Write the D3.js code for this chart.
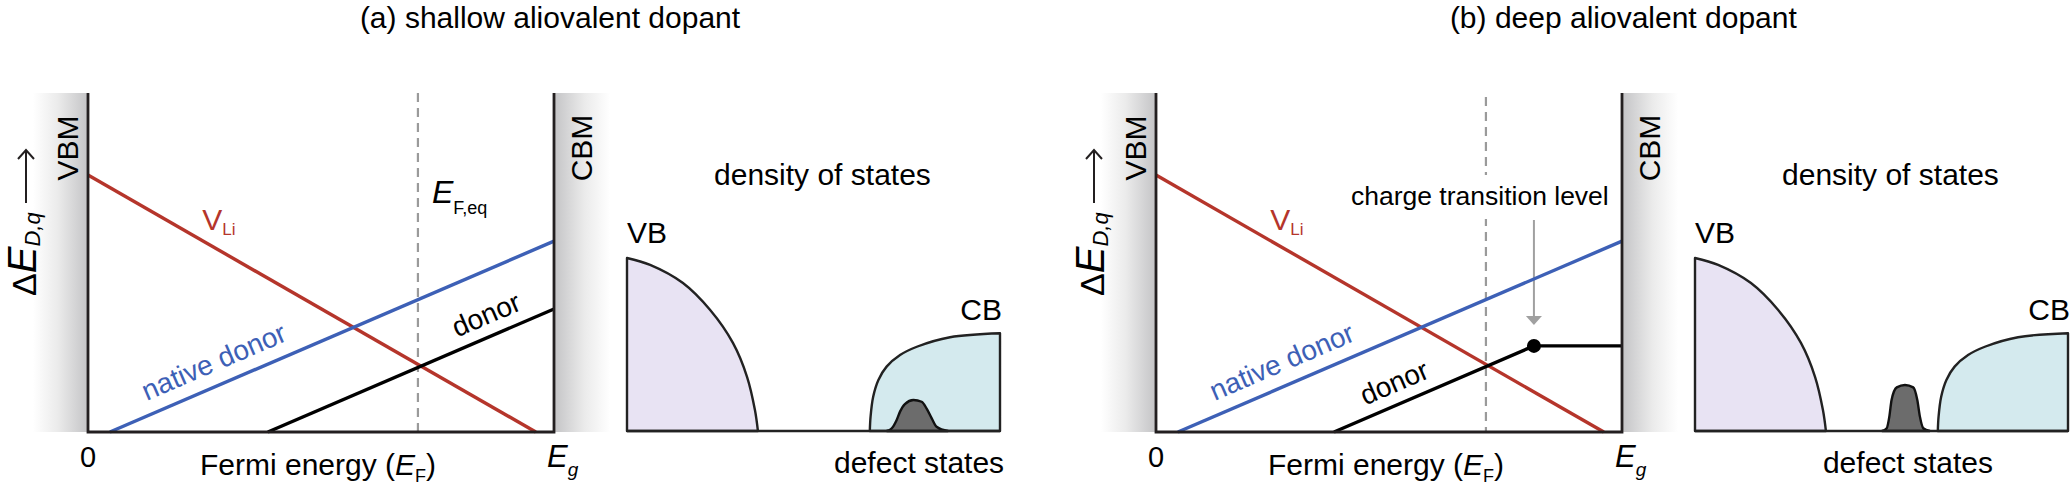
<!DOCTYPE html>
<html>
<head>
<meta charset="utf-8">
<script src="https://cdn.jsdelivr.net/npm/d3@7"></script>
<style>
  body { margin: 0; background: #fff; }
  svg { display: block; font-family: "Liberation Sans", Arial, Helvetica, sans-serif; }
</style>
</head>
<body>
<svg></svg>
<script>
const width = 2071,
    height = 486;

// panel titles
const titles = ["(a) shallow aliovalent dopant", "(b) deep aliovalent dopant"];

// defect formation energies, x = E_F / E_g, y = relative formation energy
const vLi = [[0, 0.758], [0.961, 0]];
const nativeDonor = [[0.047, 0], [1, 0.563]];
const donorShallow = [[0.386, 0], [1, 0.363]];
const donorDeep = [[0.382, 0], [0.811, 0.254], [1, 0.254]];
const transitionLevel = [0.811, 0.254];
const fermiEq = 0.708;

// density of states, x = energy (0..1 across panel), y = DOS
const vbDos = [[0, 0], [0, 1], [0.062, 0.960], [0.150, 0.855], [0.223, 0.699],
    [0.284, 0.509], [0.322, 0.312], [0.343, 0.121], [0.351, 0]];
const cbDos = [[0.651, 0], [0.653, 0.083], [0.660, 0.198], [0.674, 0.295],
    [0.696, 0.372], [0.732, 0.439], [0.777, 0.487], [0.866, 0.542], [1, 0.565], [1, 0]];
const defectShallow = [[0.696, 0], [0.710, 0.016], [0.723, 0.064], [0.732, 0.112],
    [0.745, 0.156], [0.768, 0.179], [0.790, 0.169], [0.803, 0.131], [0.817, 0.073],
    [0.830, 0.025], [0.861, 0]];
const defectDeep = [[0.501, 0], [0.514, 0.016], [0.521, 0.083], [0.527, 0.179],
    [0.541, 0.252], [0.563, 0.266], [0.585, 0.252], [0.596, 0.179], [0.603, 0.083],
    [0.612, 0.016], [0.630, 0]];
// where "defect states" is centred, energy units
const defectLabelAt = [0.783, 0.571];

const red = "#b5352b",
    blue = "#3d60b6",
    ink = "#231f20";

const svg = d3.select("svg")
    .attr("width", width)
    .attr("height", height);

const defs = svg.append("defs");
const gl = defs.append("linearGradient").attr("id", "bandL");
gl.append("stop").attr("offset", "0").attr("stop-color", "#ffffff");
gl.append("stop").attr("offset", "0.45").attr("stop-color", "#ebebeb");
gl.append("stop").attr("offset", "1").attr("stop-color", "#c4c4c6");
const gr = defs.append("linearGradient").attr("id", "bandR");
gr.append("stop").attr("offset", "0").attr("stop-color", "#c4c4c6");
gr.append("stop").attr("offset", "0.55").attr("stop-color", "#ebebeb");
gr.append("stop").attr("offset", "1").attr("stop-color", "#ffffff");

const panels = [
    { title: titles[0], ox: 0, donor: donorShallow, defect: defectShallow, deep: false,
      donorLabelAt: 0.802, defectLabel: defectLabelAt[0] },
    { title: titles[1], ox: 1068, donor: donorDeep, defect: defectDeep, deep: true,
      donorLabelAt: 0.459, defectLabel: defectLabelAt[1] }
];

panels.forEach(drawPanel);

function drawPanel(p) {
    const g = svg.append("g");
    const x = d3.scaleLinear().domain([0, 1]).range([88 + p.ox, 554 + p.ox]);
    const y = d3.scaleLinear().domain([0, 1]).range([432, 93]);
    const line = d3.line().x(d => x(d[0])).y(d => y(d[1]));

    // title
    g.append("text")
        .attr("x", 550 + p.ox * 1.005)
        .attr("y", 28)
        .attr("text-anchor", "middle")
        .attr("font-size", 30)
        .text(p.title);

    // VBM / CBM shading
    g.append("rect")
        .attr("x", x(0) - 55).attr("y", y(1))
        .attr("width", 55).attr("height", y(0) - y(1))
        .attr("fill", "url(#bandL)");
    g.append("rect")
        .attr("x", x(1)).attr("y", y(1))
        .attr("width", 56).attr("height", y(0) - y(1))
        .attr("fill", "url(#bandR)");

    g.append("text")
        .attr("transform", `translate(${x(0) - 10},148) rotate(-90)`)
        .attr("text-anchor", "middle")
        .attr("font-size", 30)
        .text("VBM");
    g.append("text")
        .attr("transform", `translate(${x(1) + 38},148) rotate(-90)`)
        .attr("text-anchor", "middle")
        .attr("font-size", 30)
        .text("CBM");

    // y label
    const yl = g.append("text")
        .attr("transform", `translate(${x(0) - 52},296) rotate(-90)`)
        .attr("font-size", 34);
    yl.append("tspan").text("Δ");
    yl.append("tspan").attr("font-style", "italic").attr("font-size", 40).text("E");
    yl.append("tspan").attr("font-style", "italic").attr("font-size", 22).attr("dy", 4).text("D,q");
    const ax = x(0) - 62;
    g.append("path")
        .attr("d", `M${ax},203V150M${ax - 8},159L${ax},150L${ax + 8},159`)
        .attr("fill", "none")
        .attr("stroke", ink)
        .attr("stroke-width", 2);

    // E_F,eq dashed line
    g.append("line")
        .attr("x1", x(fermiEq)).attr("x2", x(fermiEq))
        .attr("y1", p.deep ? 97 : y(1)).attr("y2", y(0))
        .attr("stroke", "#9a9a9a")
        .attr("stroke-width", 2.2)
        .attr("stroke-dasharray", "9,6");

    if (!p.deep) {
        const ef = g.append("text")
            .attr("x", x(fermiEq) + 14)
            .attr("y", 203)
            .attr("font-size", 32);
        ef.append("tspan").attr("font-style", "italic").text("E");
        ef.append("tspan").attr("font-size", 18).attr("dy", 11).text("F,eq");
    } else {
        const ct = g.append("text")
            .attr("x", x(0.695))
            .attr("y", 205)
            .attr("text-anchor", "middle")
            .attr("font-size", 26.5)
            .text("charge transition level");
        const bb = ct.node().getBBox();
        g.insert("rect", "text:last-of-type")
            .attr("x", bb.x - 4).attr("y", bb.y - 6)
            .attr("width", bb.width + 8).attr("height", bb.height + 14)
            .attr("fill", "#fff");
        // arrow to the transition level
        const tx = x(transitionLevel[0]);
        g.append("line")
            .attr("x1", tx).attr("x2", tx)
            .attr("y1", 220).attr("y2", 318)
            .attr("stroke", "#a0a0a0")
            .attr("stroke-width", 2);
        g.append("path")
            .attr("d", `M${tx - 8},316L${tx + 8},316L${tx},325Z`)
            .attr("fill", "#a0a0a0");
    }

    // formation energy lines
    g.append("path").attr("d", line(vLi))
        .attr("fill", "none").attr("stroke", red).attr("stroke-width", 3.4);
    g.append("path").attr("d", line(nativeDonor))
        .attr("fill", "none").attr("stroke", blue).attr("stroke-width", 3.4);
    g.append("path").attr("d", line(p.donor))
        .attr("fill", "none").attr("stroke", "#000").attr("stroke-width", 3.4);

    if (p.deep) {
        g.append("circle")
            .attr("cx", x(transitionLevel[0]))
            .attr("cy", y(transitionLevel[1]))
            .attr("r", 7)
            .attr("fill", "#000");
    }

    // axes frame
    g.append("path")
        .attr("d", `M${x(0)},${y(1)}V${y(0)}H${x(1)}V${y(1)}`)
        .attr("fill", "none")
        .attr("stroke", ink)
        .attr("stroke-width", 2.8);

    // line labels
    const vl = g.append("text")
        .attr("x", x(0.245)).attr("y", 230)
        .attr("fill", red)
        .attr("font-size", 30);
    vl.append("tspan").text("V");
    vl.append("tspan").attr("font-size", 17).attr("dy", 5).text("Li");

    lineLabel(g, x, y, nativeDonor, 0.138, 14, "native donor", blue);
    lineLabel(g, x, y, p.donor.slice(0, 2), p.donorLabelAt, 12, "donor", "#000");

    // x axis labels
    g.append("text")
        .attr("x", x(0)).attr("y", 467)
        .attr("text-anchor", "middle")
        .attr("font-size", 29)
        .text("0");
    const eg = g.append("text")
        .attr("x", x(1) - 7).attr("y", 467)
        .attr("font-size", 31);
    eg.append("tspan").attr("font-style", "italic").text("E");
    eg.append("tspan").attr("font-style", "italic").attr("font-size", 19).attr("dy", 9).text("g");
    const xl = g.append("text")
        .attr("x", x(0) + 112).attr("y", 475)
        .attr("font-size", 30);
    xl.append("tspan").text("Fermi energy (");
    xl.append("tspan").attr("font-style", "italic").text("E");
    xl.append("tspan").attr("font-size", 18).attr("dy", 7).text("F");
    xl.append("tspan").attr("dy", -7).text(")");

    drawDos(g, p);
}

function lineLabel(g, x, y, seg, t, gap, label, color) {
    const [p0, p1] = seg;
    const yv = p0[1] + (p1[1] - p0[1]) * (t - p0[0]) / (p1[0] - p0[0]);
    const ang = Math.atan2(y(p1[1]) - y(p0[1]), x(p1[0]) - x(p0[0])) * 180 / Math.PI;
    g.append("text")
        .attr("transform", `translate(${x(t)},${y(yv)}) rotate(${ang})`)
        .attr("dy", -gap)
        .attr("fill", color)
        .attr("font-size", 28)
        .text(label);
}

function drawDos(g, p) {
    const ex = d3.scaleLinear().domain([0, 1]).range([627 + p.ox, 1000 + p.ox]);
    const dy = d3.scaleLinear().domain([0, 1]).range([431, 258]);
    const band = d3.line().x(d => ex(d[0])).y(d => dy(d[1])).curve(d3.curveCatmullRom.alpha(0.5));
    const peak = d3.line().x(d => ex(d[0])).y(d => dy(d[1])).curve(d3.curveMonotoneX);
    const straight = d3.line().x(d => ex(d[0])).y(d => dy(d[1]));

    // band shapes: vertical edges drawn straight, curved parts smooth
    const vbPath = "M" + ex(0) + "," + dy(0) + "L" + ex(0) + "," + dy(1) +
        band(vbDos.slice(1)).replace(/^M/, "L") + "Z";
    const cbPath = band(cbDos.slice(0, -1)) + "L" + ex(1) + "," + dy(0) + "Z";

    g.append("path").attr("d", cbPath)
        .attr("fill", "#d4eaee").attr("stroke", "#222").attr("stroke-width", 2.4)
        .attr("stroke-linejoin", "round");
    g.append("path").attr("d", vbPath)
        .attr("fill", "#e8e3f3").attr("stroke", "#222").attr("stroke-width", 2.4)
        .attr("stroke-linejoin", "round");
    g.append("path").attr("d", peak(p.defect) + "Z")
        .attr("fill", "#6c6c6c").attr("stroke", "#111").attr("stroke-width", 2.4);
    g.append("path").attr("d", straight([[0, 0], [1, 0]]))
        .attr("stroke", "#222").attr("stroke-width", 2.6);

    g.append("text")
        .attr("x", ex(0.524)).attr("y", 185)
        .attr("text-anchor", "middle")
        .attr("font-size", 30)
        .text("density of states");
    g.append("text")
        .attr("x", ex(0)).attr("y", 243)
        .attr("font-size", 30)
        .text("VB");
    g.append("text")
        .attr("x", ex(1) + 2).attr("y", 320)
        .attr("text-anchor", "end")
        .attr("font-size", 30)
        .text("CB");
    g.append("text")
        .attr("x", ex(p.defectLabel)).attr("y", 473)
        .attr("text-anchor", "middle")
        .attr("font-size", 30)
        .text("defect states");
}
</script>
</body>
</html>
